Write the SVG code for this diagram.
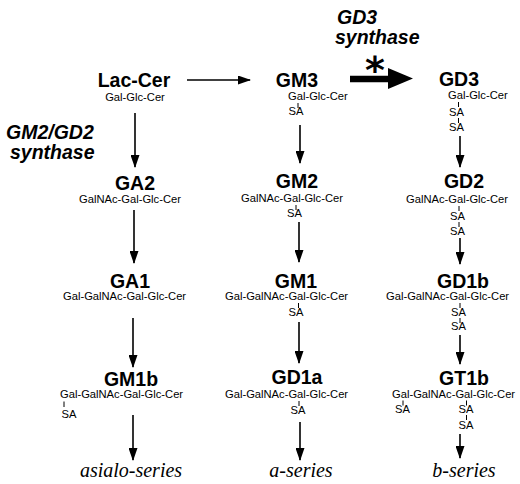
<svg xmlns="http://www.w3.org/2000/svg" width="520" height="484" viewBox="0 0 520 484">
<style>
.hd{font-family:"Liberation Sans",Arial,sans-serif;font-weight:bold;font-size:19.5px;text-anchor:middle;fill:#000}
.ch{font-family:"Liberation Sans",Arial,sans-serif;font-size:11.2px;fill:#000}
.sa{font-family:"Liberation Sans",Arial,sans-serif;font-size:11.2px;text-anchor:middle;fill:#000}
.tk{stroke:#000;stroke-width:1}
.syn{font-family:"Liberation Sans",Arial,sans-serif;font-weight:bold;font-style:italic;font-size:19.5px;fill:#000}
.ser{font-family:"Liberation Serif","Times New Roman",serif;font-style:italic;font-size:20px;text-anchor:middle;fill:#000}
.cn{stroke:#000;stroke-width:1.6;fill:none;marker-end:url(#ah)}
</style>
<defs>
<marker id="ah" viewBox="0 0 13 9" refX="12" refY="4.5" markerWidth="13" markerHeight="9" markerUnits="userSpaceOnUse" orient="auto">
<path d="M0,0 L13,4.5 L0,9 Z" fill="#000"/>
</marker>
</defs>
<rect width="520" height="484" fill="#fff"/>

<g id="connectors">
<line class="cn" x1="187" y1="80" x2="250" y2="80"/>
<path d="M350,75.8 H388 V68 L413,78.5 L388,89 V82.3 H350 Z" fill="#000"/>
<line class="cn" x1="135" y1="113" x2="135" y2="167"/>
<line class="cn" x1="134" y1="210" x2="134" y2="263"/>
<line class="cn" x1="133" y1="318" x2="133" y2="367"/>
<line class="cn" x1="133" y1="415" x2="133" y2="460"/>
<line class="cn" x1="300" y1="125" x2="300" y2="163"/>
<line class="cn" x1="299" y1="222" x2="299" y2="262"/>
<line class="cn" x1="299" y1="322" x2="299" y2="363"/>
<line class="cn" x1="300" y1="422" x2="300" y2="460"/>
<line class="cn" x1="460" y1="136" x2="460" y2="167"/>
<line class="cn" x1="460" y1="238" x2="460" y2="264"/>
<line class="cn" x1="460" y1="335" x2="460" y2="364"/>
<line class="cn" x1="460" y1="434" x2="460" y2="458"/>
</g>

<g id="gm2gd2-synthase">
<text class="syn" x="6" y="138.5">GM2/GD2</text>
<text class="syn" x="10" y="158.5">synthase</text>
</g>
<g id="gd3-synthase">
<text class="syn" x="337" y="23.5">GD3</text>
<text class="syn" x="335" y="43.5">synthase</text>
<text x="375" y="83" font-family="DejaVu Sans,sans-serif" font-weight="bold" font-size="38" text-anchor="middle">*</text>
</g>

<g id="lac-cer">
<text class="hd" x="134" y="86.5">Lac-Cer</text>
<text class="ch" x="135" y="101" text-anchor="middle">Gal-Glc-Cer</text>
</g>
<g id="ga2">
<text class="hd" x="135" y="189.5">GA2</text>
<text class="ch" x="130" y="203" text-anchor="middle">GalNAc-Gal-Glc-Cer</text>
</g>
<g id="ga1">
<text class="hd" x="130" y="288">GA1</text>
<text class="ch" x="63" y="300">Gal-GalNAc-Gal-Glc-Cer</text>
</g>
<g id="gm1b">
<text class="hd" x="131" y="386">GM1b</text>
<text class="ch" x="60" y="398">Gal-GalNAc-Gal-Glc-Cer</text>
<line class="tk" x1="64" y1="401.5" x2="64" y2="407"/>
<text class="sa" x="69" y="417.5">SA</text>
</g>

<g id="gm3">
<text class="hd" x="297" y="87">GM3</text>
<text class="ch" x="288" y="100">Gal-Glc-Cer</text>
<line class="tk" x1="298" y1="103" x2="298" y2="108"/>
<text class="sa" x="296" y="115">SA</text>
</g>
<g id="gm2">
<text class="hd" x="297" y="187.5">GM2</text>
<text class="ch" x="241" y="202">GalNAc-Gal-Glc-Cer</text>
<line class="tk" x1="296" y1="205" x2="296" y2="210"/>
<text class="sa" x="294.5" y="217">SA</text>
</g>
<g id="gm1">
<text class="hd" x="296" y="288">GM1</text>
<text class="ch" x="225" y="300">Gal-GalNAc-Gal-Glc-Cer</text>
<line class="tk" x1="298.5" y1="303" x2="298.5" y2="308"/>
<text class="sa" x="296" y="316">SA</text>
</g>
<g id="gd1a">
<text class="hd" x="297" y="384">GD1a</text>
<text class="ch" x="225" y="398">Gal-GalNAc-Gal-Glc-Cer</text>
<line class="tk" x1="299" y1="401" x2="299" y2="406"/>
<text class="sa" x="298" y="414">SA</text>
</g>

<g id="gd3">
<text class="hd" x="459" y="86">GD3</text>
<text class="ch" x="448" y="99">Gal-Glc-Cer</text>
<line class="tk" x1="458.5" y1="102" x2="458.5" y2="107"/>
<text class="sa" x="456.5" y="116">SA</text>
<line class="tk" x1="458.5" y1="118" x2="458.5" y2="123"/>
<text class="sa" x="456.5" y="131">SA</text>
</g>
<g id="gd2">
<text class="hd" x="464" y="188">GD2</text>
<text class="ch" x="406" y="203">GalNAc-Gal-Glc-Cer</text>
<line class="tk" x1="459" y1="206" x2="459" y2="211"/>
<text class="sa" x="457.5" y="220">SA</text>
<line class="tk" x1="459" y1="222" x2="459" y2="227"/>
<text class="sa" x="457.5" y="235">SA</text>
</g>
<g id="gd1b">
<text class="hd" x="463" y="288">GD1b</text>
<text class="ch" x="386" y="300">Gal-GalNAc-Gal-Glc-Cer</text>
<line class="tk" x1="460" y1="303" x2="460" y2="308"/>
<text class="sa" x="458.5" y="316">SA</text>
<line class="tk" x1="460" y1="318" x2="460" y2="323"/>
<text class="sa" x="458.5" y="330">SA</text>
</g>
<g id="gt1b">
<text class="hd" x="464" y="385">GT1b</text>
<text class="ch" x="392" y="397.5">Gal-GalNAc-Gal-Glc-Cer</text>
<line class="tk" x1="403" y1="400.5" x2="403" y2="405.5"/>
<text class="sa" x="402.5" y="413">SA</text>
<line class="tk" x1="466.5" y1="400.5" x2="466.5" y2="405.5"/>
<text class="sa" x="466" y="413">SA</text>
<line class="tk" x1="466.5" y1="415" x2="466.5" y2="420"/>
<text class="sa" x="466" y="428.5">SA</text>
</g>

<text class="ser" x="131" y="477">asialo-series</text>
<text class="ser" x="301" y="477">a-series</text>
<text class="ser" x="464" y="477">b-series</text>
</svg>
